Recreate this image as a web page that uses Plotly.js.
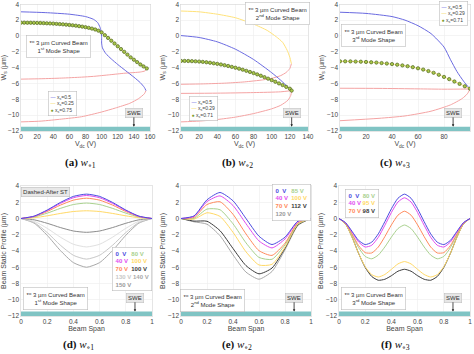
<!DOCTYPE html>
<html><head><meta charset="utf-8">
<script src="https://cdn.plot.ly/plotly-3.0.1.min.js"></script>
<style>html,body{margin:0;padding:0;background:#fff}#g{width:474px;height:354px}</style>
</head><body><div id="g"></div>
<script>
// ---------- Panel (a): 1st mode, V_dc sweep ----------
const aBlueV = [0,30,60,80,90,95,98,99.5,100,100,101,105,112,120,130,140,148,153,155];
const aBlueW = [3.05,2.95,2.75,2.45,2.1,1.7,1.1,0.5,-0.2,-0.9,-1.5,-2.2,-2.9,-3.6,-4.4,-5.2,-5.9,-6.5,-6.9];
const aPinkLowV = [155,153,146,135,117,100,75,50,25,0];
const aPinkLowW = [-6.9,-7.3,-7.9,-8.5,-9.1,-9.6,-10.2,-10.5,-10.75,-10.85];
const aYelV = [0,20,40,60,80,90,100,110,120,130,140,150,156];
const aYelW = [1.68,1.65,1.56,1.39,1.11,0.88,0.45,-0.3,-1.3,-2.3,-3.0,-3.6,-4.1];
const aGrnV = [0,4,8,12,16,20,24,28,32,36,40,44,48,52,56,60,64,68,72,76,80,84,88,92,96,100,104,108,112,116,120,124,128,132,136,140,144,148,152,156];
const aGrnW = [1.68,1.68,1.67,1.67,1.66,1.65,1.64,1.62,1.6,1.58,1.56,1.53,1.5,1.47,1.43,1.39,1.35,1.3,1.24,1.18,1.11,1.03,0.93,0.82,0.67,0.45,0.1,-0.25,-0.6,-0.95,-1.3,-1.65,-2.0,-2.35,-2.7,-3.0,-3.3,-3.6,-3.85,-4.1];
const aPinkUpV = [156,154,148,140,129,110,90,75,50,25,0];
const aPinkUpW = [-4.1,-4.4,-4.55,-4.62,-4.7,-4.9,-5.1,-5.2,-5.32,-5.4,-5.45];

// ---------- Panel (b): 2nd mode ----------
const bYelV = [0,20,40,60,80,95,105,112,117,120,121.7];
const bYelW = [3.15,3.05,2.75,2.3,1.5,0.7,-0.1,-0.8,-1.8,-2.7,-3.5];
const bPinkUpV = [121.7,120,116,110,100,90,70,50,25,0];
const bPinkUpW = [-3.5,-4.1,-4.6,-5.0,-5.35,-5.55,-5.8,-5.95,-6.05,-6.1];
const bBlueV = [0,20,40,60,80,100,110,122];
const bBlueW = [0.05,-0.19,-0.74,-1.67,-2.97,-4.64,-5.6,-6.9];
const bGrnV = [0,4,8,12,16,20,24,28,32,36,40,44,48,52,56,60,64,68,72,76,80,84,88,92,96,100,104,108,112,116,120,122];
const bGrnW = [-3.15,-3.15,-3.16,-3.18,-3.2,-3.23,-3.27,-3.32,-3.38,-3.45,-3.52,-3.6,-3.69,-3.79,-3.9,-4.01,-4.13,-4.26,-4.4,-4.54,-4.69,-4.85,-5.02,-5.2,-5.39,-5.58,-5.78,-5.99,-6.2,-6.43,-6.66,-6.9];
const bPinkMidV = [0,40,80,110,122];
const bPinkMidW = [-7.25,-7.22,-7.15,-7.05,-6.9];
const bPinkLowV = [122,121,118,110,100,80,60,40,20,0];
const bPinkLowW = [-6.9,-7.5,-8.1,-8.75,-9.2,-9.8,-10.25,-10.55,-10.75,-10.85];

// ---------- Panel (c): 3rd mode ----------
const cBlueV = [0,20,40,50,60,70,80,85,90,95,100];
const cBlueW = [3.0,2.85,2.45,2.0,1.3,0.3,-1.4,-3.0,-4.5,-5.7,-6.7];
const cGrnV = [0,4,8,12,16,20,24,28,32,36,40,44,48,52,56,60,64,68,72,76,80,84,88,92,96,100];
const cGrnW = [-3.2,-3.2,-3.21,-3.23,-3.25,-3.28,-3.32,-3.36,-3.42,-3.48,-3.55,-3.63,-3.72,-3.82,-3.94,-4.08,-4.24,-4.43,-4.65,-4.9,-5.17,-5.45,-5.75,-6.05,-6.35,-6.65];
const cPinkUpV = [0,30,60,80,100];
const cPinkUpW = [-6.6,-6.62,-6.68,-6.72,-6.7];
const cPinkLowV = [100,98,94,85,70,50,30,0];
const cPinkLowW = [-6.7,-7.3,-7.9,-8.7,-9.5,-10.1,-10.4,-10.7];

// ---------- legend labels ----------
const legA = ['x<sub>s</sub>=0.5','x<sub>s</sub>=0.25','x<sub>s</sub>=0.75'];
const legBC = ['x<sub>s</sub>=0.5','x<sub>s</sub>=0.29','x<sub>s</sub>=0.71'];

// ---------- Panel (d): static profiles, 1st mode ----------
const span11 = [0,0.1,0.2,0.3,0.4,0.5,0.6,0.7,0.8,0.9,1];
const d0   = [0,0.29,1.04,1.97,2.72,3.0,2.72,1.97,1.04,0.29,0];
const d40  = [0,0.27,0.98,1.85,2.56,2.83,2.56,1.85,0.98,0.27,0];
const d70  = [0,0.24,0.86,1.64,2.26,2.5,2.26,1.64,0.86,0.24,0];
const d80  = [0,0.18,0.66,1.24,1.72,1.9,1.72,1.24,0.66,0.18,0];
const d100a= [0,0.09,0.33,0.62,0.86,0.95,0.86,0.62,0.33,0.09,0];
const d100b= [0,-0.16,-0.59,-1.11,-1.54,-1.7,-1.54,-1.11,-0.59,-0.16,0];
const d130 = [0,-0.33,-1.21,-2.29,-3.17,-3.5,-3.17,-2.29,-1.21,-0.33,0];
const d140 = [0,-0.48,-1.73,-3.28,-4.53,-5.0,-4.53,-3.28,-1.73,-0.48,0];
const d150 = [0,-0.57,-2.07,-3.93,-5.43,-6.0,-5.43,-3.93,-2.07,-0.57,0];

// ---------- Panel (e): static profiles, 2nd mode ----------
const e0   = [0,0.32,2.3,3.2,2.18,0,-2.18,-3.2,-2.3,-0.32,0];
const e40  = [0,0.26,2.08,2.78,1.6,-0.64,-2.76,-3.62,-2.52,-0.38,0];
const e70  = [0,0.15,1.72,2.06,0.52,-1.9,-3.96,-4.54,-3.04,-0.51,0];
const e85  = [0,0.02,1.16,1.08,-0.65,-3.0,-4.79,-5.02,-3.24,-0.6,0];
const e100 = [0,-0.09,0.71,0.26,-1.7,-4.1,-5.72,-5.64,-3.53,-0.69,0];
const e112 = [0,-0.32,-0.34,-1.5,-3.69,-5.8,-6.81,-6.1,-3.66,-0.78,0];
const e120 = [0,-0.41,-0.7,-2.12,-4.47,-6.6,-7.47,-6.52,-3.86,-0.85,0];

// ---------- Panel (f): static profiles, 3rd mode ----------
const span21 = [0,0.05,0.1,0.15,0.2,0.25,0.3,0.35,0.4,0.45,0.5,0.55,0.6,0.65,0.7,0.75,0.8,0.85,0.9,0.95,1];
const f0  = [0,-0.51,-1.59,-2.7,-3.21,-2.91,-1.89,-0.39,1.2,2.49,3.0,2.49,1.2,-0.39,-1.89,-2.91,-3.21,-2.7,-1.59,-0.51,0];
const f40 = [0,-0.54,-1.69,-2.9,-3.51,-3.29,-2.31,-0.84,0.74,2.03,2.55,2.03,0.74,-0.84,-2.31,-3.29,-3.51,-2.9,-1.69,-0.54,0];
const f70 = [0,-0.59,-1.91,-3.34,-4.2,-4.24,-3.51,-2.23,-0.79,0.41,0.9,0.41,-0.79,-2.23,-3.51,-4.24,-4.2,-3.34,-1.91,-0.59,0];
const f80 = [0,-0.62,-2.01,-3.59,-4.67,-4.96,-4.5,-3.5,-2.29,-1.24,-0.8,-1.24,-2.29,-3.5,-4.5,-4.96,-4.67,-3.59,-2.01,-0.62,0];
const f95 = [0,-0.69,-2.32,-4.3,-5.93,-6.91,-7.2,-6.89,-6.26,-5.59,-5.3,-5.59,-6.26,-6.89,-7.2,-6.91,-5.93,-4.3,-2.32,-0.69,0];
const f98 = [0,-0.68,-2.3,-4.31,-6.02,-7.14,-7.6,-7.48,-7.04,-6.49,-6.25,-6.49,-7.04,-7.48,-7.6,-7.14,-6.02,-4.31,-2.3,-0.68,0];

// ---------- styling ----------
const BLUE='#6a6ae0', YEL='#ffe27a', PINK='#f4a3a3', GFILL='#a9c84a', GLINE='#4f6420';
const C0='#4b4be0', C40='#e04cf0', C70='#ff8a5c', C80='#a9d18e', C100='#ffd966', CBK='#3a3a3a';
const G1='#e0e0e0', G2='#c8c8c8', G3='#a8a8a8';

const traces = [];
function ln(x,y,color,xa,ya){ traces.push({type:'scatter',mode:'lines',x:x,y:y,xaxis:xa,yaxis:ya,line:{color:color,width:1,shape:'spline',smoothing:0.6},showlegend:false,hoverinfo:'skip'});}
function dots(x,y,xa,ya){ traces.push({type:'scatter',mode:'markers',x:x,y:y,xaxis:xa,yaxis:ya,marker:{size:3.3,color:GFILL,line:{color:GLINE,width:0.7}},showlegend:false,hoverinfo:'skip'});}

// (a)
ln(aPinkLowV,aPinkLowW,PINK,'x','y');
ln(aPinkUpV,aPinkUpW,PINK,'x','y');
ln(aBlueV,aBlueW,BLUE,'x','y');
ln(aYelV,aYelW,YEL,'x','y');
dots(aGrnV,aGrnW,'x','y');
// (b)
ln(bPinkUpV,bPinkUpW,PINK,'x2','y2');
ln(bPinkMidV,bPinkMidW,PINK,'x2','y2');
ln(bPinkLowV,bPinkLowW,PINK,'x2','y2');
ln(bBlueV,bBlueW,BLUE,'x2','y2');
ln(bYelV,bYelW,YEL,'x2','y2');
ln(bGrnV,bGrnW,YEL,'x2','y2');
dots(bGrnV,bGrnW,'x2','y2');
// (c)
ln(cPinkUpV,cPinkUpW,PINK,'x3','y3');
ln(cPinkLowV,cPinkLowW,PINK,'x3','y3');
ln(cBlueV,cBlueW,BLUE,'x3','y3');
ln(cGrnV,cGrnW,YEL,'x3','y3');
dots(cGrnV,cGrnW,'x3','y3');
// (d)
[[d150,G3],[d140,G2],[d130,G1],[d100b,'#8c8c8c'],[d100a,C100],[d80,C80],[d70,C70],[d40,C40],[d0,C0]].forEach(p=>ln(span11,p[0],p[1],'x4','y4'));
// (e)
[[e120,G3],[e112,CBK],[e100,C100],[e85,C80],[e70,C70],[e40,C40],[e0,C0]].forEach(p=>ln(span11,p[0],p[1],'x5','y5'));
// (f)
[[f98,CBK],[f95,C100],[f80,C80],[f70,C70],[f40,C40],[f0,C0]].forEach(p=>ln(span21,p[0],p[1],'x6','y6'));

// ---------- layout ----------
const W=474,H=354;
const px=v=>v/W, py=v=>1-v/H;
const FAM='Liberation Sans, Arial, sans-serif';
const tickF={size:6.5,color:'#444',family:FAM};
const titF={size:7,color:'#444',family:FAM};
function xax(dom,range,dtick,title,anchor){return {domain:dom,range:range,dtick:dtick,tick0:0,anchor:anchor,title:{text:title,font:titF,standoff:1},tickfont:tickF,ticklen:0,showgrid:true,gridcolor:'#ececec',gridwidth:0.6,zeroline:false,showline:true,linecolor:'#d4d4d4',linewidth:0.6,mirror:true,automargin:false,fixedrange:true};}
function yax(dom,title,anchor){return {domain:dom,range:[-12,4],dtick:2,tick0:0,anchor:anchor,title:{text:title,font:titF,standoff:1},tickfont:tickF,ticklen:0,showgrid:true,gridcolor:'#ececec',gridwidth:0.6,zeroline:false,showline:true,linecolor:'#d4d4d4',linewidth:0.6,mirror:true,automargin:false,fixedrange:true};}
const topY=[py(131),py(4.3)], botY=[py(316),py(186)];
const layout={width:W,height:H,margin:{l:0,r:0,t:0,b:0},paper_bgcolor:'#fff',plot_bgcolor:'#fff',showlegend:false,
 xaxis: xax([px(21),px(150)],[0,160],20,'V<sub>dc</sub> (V)','y'),
 yaxis: yax(topY,'W<sub>s</sub> (µm)','x'),
 xaxis2:xax([px(181),px(308)],[0,140],20,'V<sub>dc</sub> (V)','y2'),
 yaxis2:yax(topY,'W<sub>s</sub> (µm)','x2'),
 xaxis3:xax([px(340),px(470)],[0,100],20,'V<sub>dc</sub> (V)','y3'),
 yaxis3:yax(topY,'W<sub>s</sub> (µm)','x3'),
 xaxis4:xax([px(21),px(152)],[0,1],0.2,'Beam Span','y4'),
 yaxis4:yax(botY,'Beam Static Profile (µm)','x4'),
 xaxis5:xax([px(181),px(311)],[0,1],0.2,'Beam Span','y5'),
 yaxis5:yax(botY,'Beam Static Profile (µm)','x5'),
 xaxis6:xax([px(339),px(470)],[0,1],0.2,'Beam Span','y6'),
 yaxis6:yax(botY,'Beam Static Profile (µm)','x6'),
 shapes:[], annotations:[]
};

// teal SWE bars, SWE labels
const sweX={'':140,'2':122,'3':87,'4':0.87,'5':0.87,'6':0.87};
['', '2','3','4','5','6'].forEach(k=>{
  layout.shapes.push({type:'rect',xref:'x'+k+' domain',yref:'y'+k,x0:0,x1:1,y0:-12,y1:-11.45,fillcolor:'#80c4c4',line:{width:0},layer:'above'});
  layout.annotations.push({xref:'x'+k,yref:'y'+k,x:sweX[k],y:-11.45,ax:0,ay:-14,showarrow:true,arrowhead:2,arrowsize:0.6,arrowwidth:0.8,arrowcolor:'#222',text:'SWE',font:{size:6,color:'#333',family:FAM},bgcolor:'#e6e6e6',bordercolor:'#bbb',borderwidth:0.5,borderpad:1.5});
});
const boxF={size:6,color:'#333',family:FAM};
function box(x,y,text,opt){layout.annotations.push(Object.assign({xref:'paper',yref:'paper',x:px(x),y:py(y),xanchor:'center',yanchor:'middle',showarrow:false,text:text,font:boxF,bgcolor:'#fff',bordercolor:'#bdbdbd',borderwidth:0.6,borderpad:3,align:'center'},opt||{}));}
const beam='*<sup>o</sup> 3 µm Curved Beam<br>';
box(58,46,beam+'1<sup>st</sup> Mode Shape');
box(277,14,beam+'2<sup>nd</sup> Mode Shape');
box(373,36,beam+'3<sup>rd</sup> Mode Shape');
box(55,298,beam+'1<sup>st</sup> Mode Shape');
box(212,300,beam+'2<sup>nd</sup> Mode Shape');
box(373,298,beam+'3<sup>rd</sup> Mode Shape');
box(45,192.5,'Dashed-After ST',{bgcolor:'#e8e8e8',borderpad:1.5});
const sp=(c,t)=>`<span style="color:${c}">${t}</span>`;
// legends for (a),(b),(c)
function lgd(x,y,labels){
  box(x,y,sp(BLUE,'—')+' '+labels[0]+'<br>'+sp('#f5d54a','—')+' '+labels[1]+'<br>'+sp('#7f9e32','●')+' '+labels[2],{font:{size:5,color:'#444',family:FAM},align:'left',borderpad:2});
}
lgd(62,103.5,legA);
lgd(203,108.5,legBC);
lgd(453,13.5,legBC);
// legends for (d),(e),(f)
const legF={size:6,color:'#333',family:FAM};
box(131.5,269,'<b>'+sp(C0,'0&nbsp;&nbsp;V')+'&nbsp;&nbsp;&nbsp;'+sp(C80,'80 V')+'<br>'+sp(C40,'40 V')+'&nbsp;&nbsp;'+sp(C100,'100 V')+'<br>'+sp(C70,'70 V')+'&nbsp;&nbsp;'+sp(CBK,'100 V')+'<br>'+sp(G2,'130 V')+'&nbsp;'+sp(G3,'140 V')+'<br>'+sp('#999','150 V')+'&nbsp;&nbsp;&nbsp;&nbsp;&nbsp;&nbsp;&nbsp;&nbsp;</b>',{font:legF,align:'left'});
box(291.5,202,'<b>'+sp(C0,'0&nbsp;&nbsp;V')+'&nbsp;&nbsp;&nbsp;'+sp(C80,'85 V')+'<br>'+sp(C40,'40 V')+'&nbsp;&nbsp;'+sp(C100,'100 V')+'<br>'+sp(C70,'70 V')+'&nbsp;&nbsp;'+sp(CBK,'112 V')+'<br>'+sp('#999','120 V')+'&nbsp;&nbsp;&nbsp;&nbsp;&nbsp;&nbsp;&nbsp;&nbsp;</b>',{font:legF,align:'left'});
box(361.5,203,'<b>'+sp(C0,'0&nbsp;&nbsp;V')+'&nbsp;&nbsp;'+sp(C80,'80 V')+'<br>'+sp(C40,'40 V')+'&nbsp;'+sp(C100,'95 V')+'<br>'+sp(C70,'70 V')+'&nbsp;'+sp(CBK,'98 V')+'</b>',{font:legF,align:'left'});

// captions
const capF={size:11,color:'#111',family:'Liberation Serif, DejaVu Serif, serif'};
[['a',80,163],['b',237,163],['c',395,163],['d',78,345],['e',237,345],['f',395,345]].forEach((c,i)=>{
  layout.annotations.push({xref:'paper',yref:'paper',x:px(c[1]),y:py(c[2]),xanchor:'center',yanchor:'middle',showarrow:false,text:'<b>('+c[0]+')</b> <i>w</i><sub>∘'+((i%3)+1)+'</sub>',font:capF});
});

Plotly.newPlot('g',traces,layout,{staticPlot:true,displayModeBar:false});
</script></body></html>
